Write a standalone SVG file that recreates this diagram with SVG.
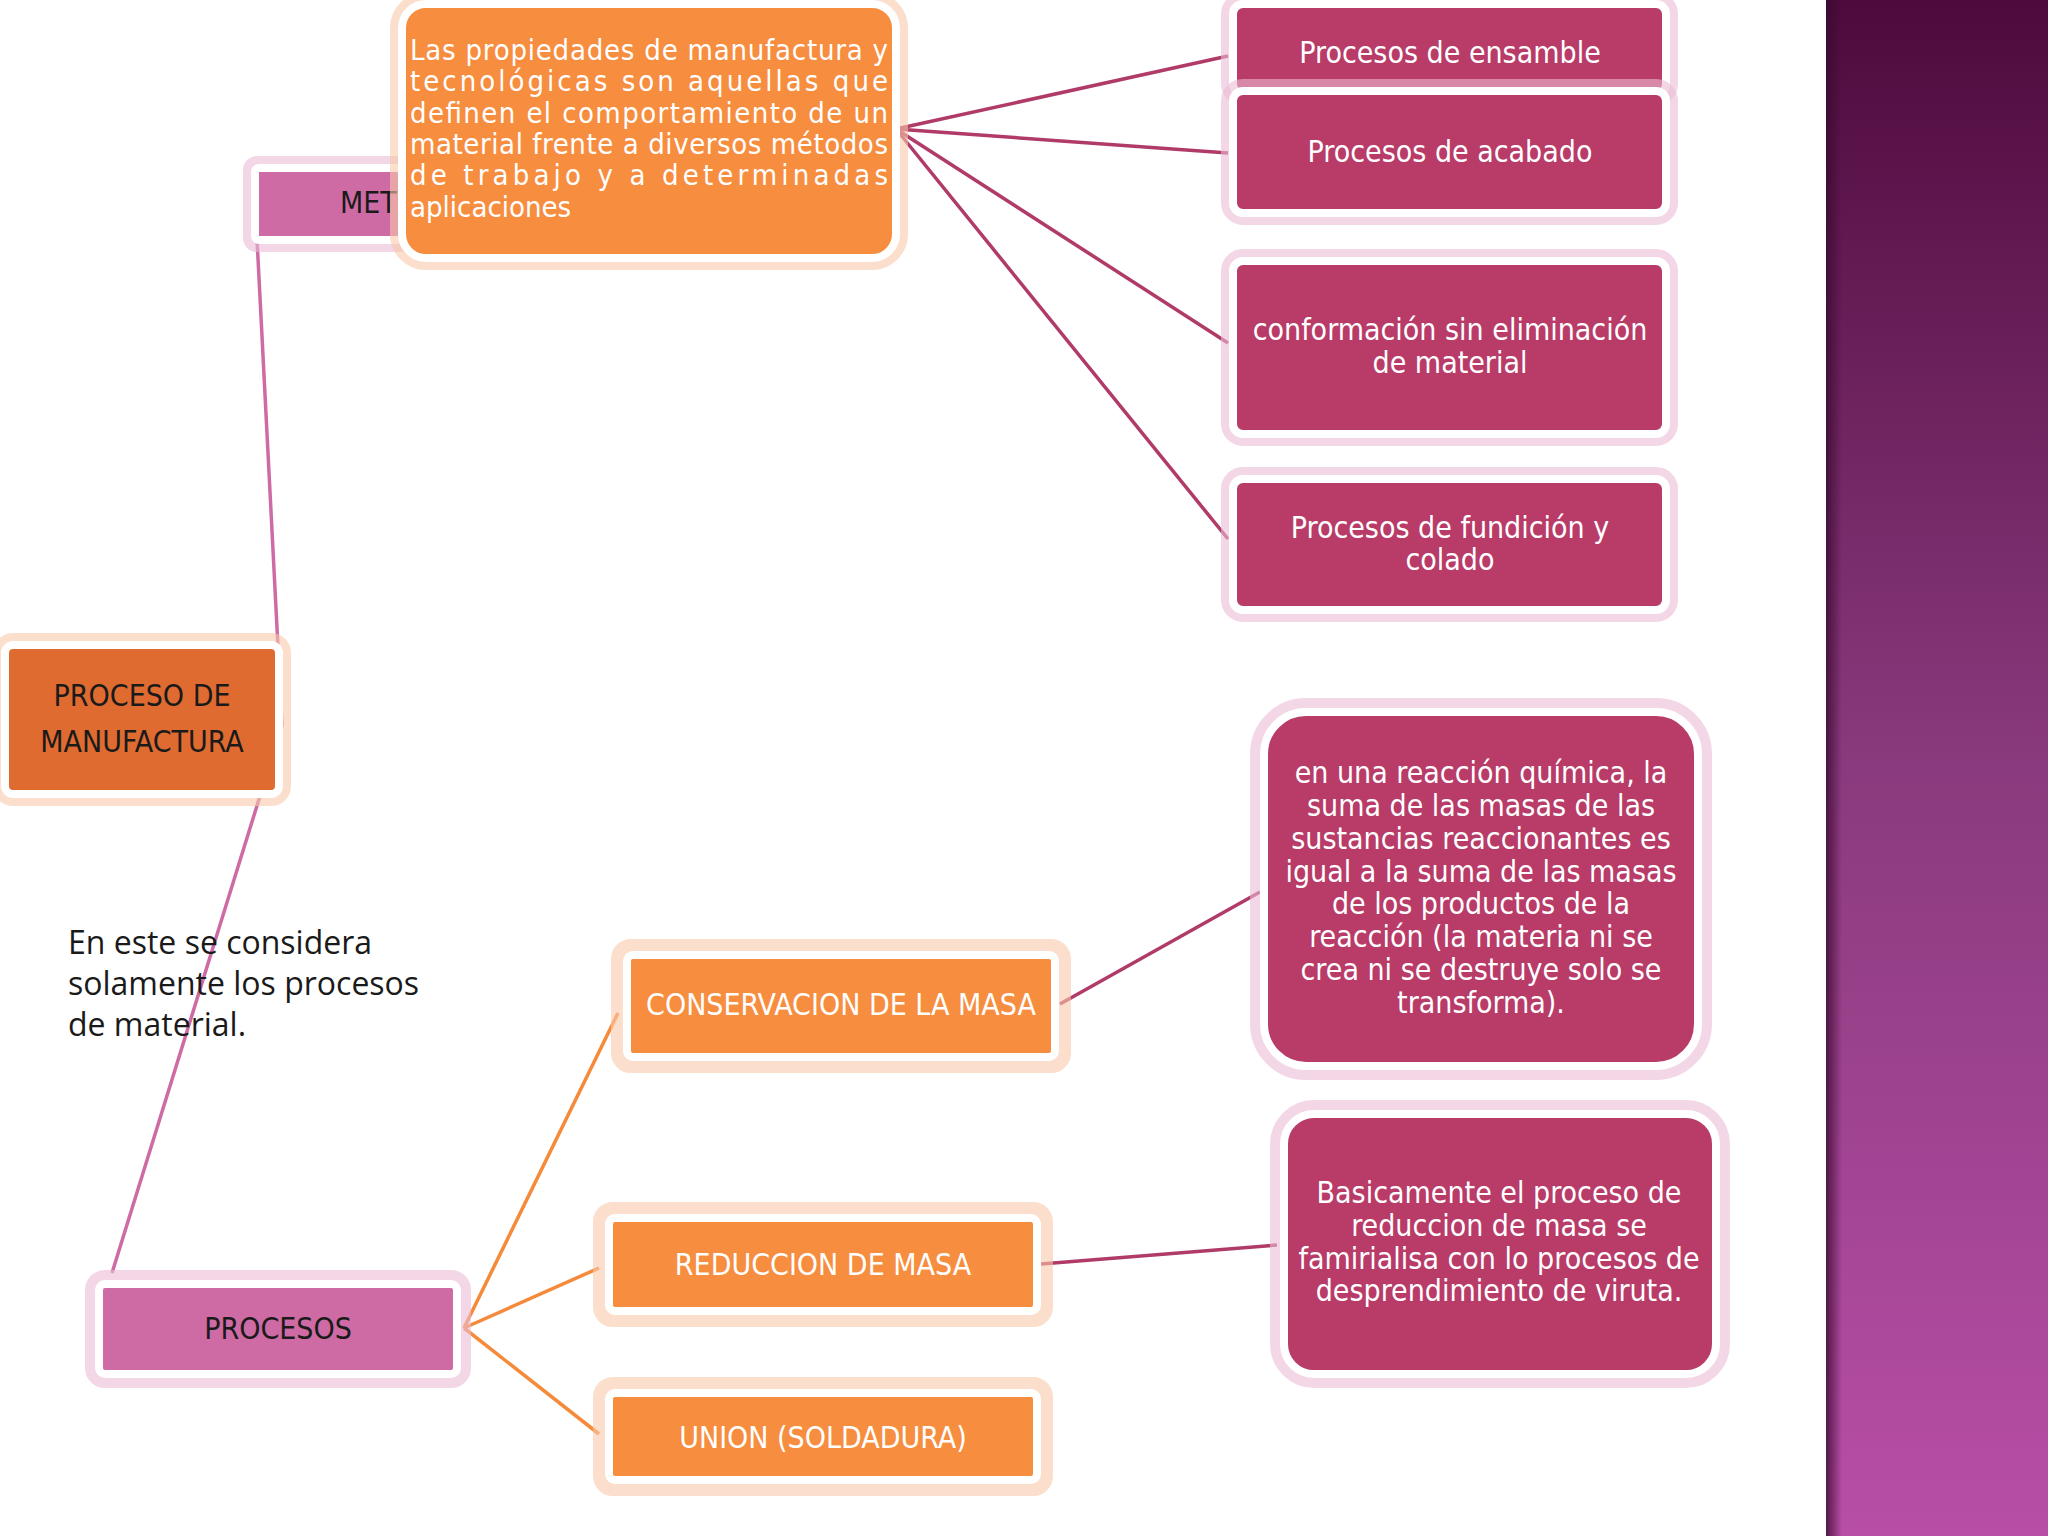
<svg xmlns="http://www.w3.org/2000/svg" width="2048" height="1536" viewBox="0 0 2048 1536">
<defs>
<linearGradient id="band" x1="0" y1="0" x2="0" y2="1">
<stop offset="0" stop-color="#4E0A3C"/><stop offset="0.5" stop-color="#8A3A7E"/><stop offset="1" stop-color="#B84EA6"/>
</linearGradient>
<linearGradient id="edge" x1="0" y1="0" x2="1" y2="0">
<stop offset="0" stop-color="#3A0A30" stop-opacity="0.8"/><stop offset="1" stop-color="#3A0A30" stop-opacity="0"/>
</linearGradient>
</defs>
<style>
.t{font-family:"DejaVu Sans Condensed","DejaVu Sans",sans-serif;font-size:30px;fill:#fff;text-anchor:middle}
.d{fill:#1a1a1a}
.og{fill:none;stroke:#F8C8A8;stroke-width:16;opacity:.6}
.pg{fill:none;stroke:#EBBCD6;stroke-width:16;opacity:.6}
.o{fill:#F78D3F;stroke:#fff;stroke-width:8}
.m{fill:#B83B68;stroke:#fff;stroke-width:8}
.p{fill:#CE6BA4;stroke:#fff;stroke-width:8}
.r{fill:#E06B30;stroke:#fff;stroke-width:8}
.cm{stroke:#B03A68;stroke-width:3.5;fill:none}
.cp{stroke:#CE6BA4;stroke-width:3.5;fill:none}
.co{stroke:#F58A3A;stroke-width:3.5;fill:none}
</style>
<rect width="2048" height="1536" fill="#fff"/>
<rect x="1826" y="0" width="222" height="1536" fill="url(#band)"/>
<rect x="1826" y="0" width="16" height="1536" fill="url(#edge)"/>
<g id="connectors">
<polyline class="cp" points="257,239 282,725 112,1273"/>
<line class="cm" x1="896" y1="129" x2="1228" y2="56"/>
<line class="cm" x1="896" y1="129" x2="1228" y2="153"/>
<line class="cm" x1="896" y1="129" x2="1228" y2="343"/>
<line class="cm" x1="896" y1="129" x2="1228" y2="539"/>
<line class="cm" x1="1060" y1="1004" x2="1260" y2="892"/>
<line class="cm" x1="1041" y1="1264" x2="1277" y2="1245"/>
<line class="co" x1="464" y1="1328" x2="618" y2="1013"/>
<line class="co" x1="464" y1="1328" x2="599" y2="1268"/>
<line class="co" x1="464" y1="1328" x2="599" y2="1434"/>
</g>
<g id="met"><rect class="pg" x="251" y="164" width="160" height="80" rx="6"/><rect class="p" x="255" y="168" width="152" height="72" rx="4"/><text class="t d" x="340" y="213" style="text-anchor:start">MET</text></g>
<g id="def"><rect class="og" x="398" y="0" width="502" height="262" rx="28"/><rect class="o" x="402" y="4" width="494" height="254" rx="24"/>
<g class="t" style="text-anchor:start;font-size:29px">
<text x="410" y="60" textLength="478" lengthAdjust="spacing">Las propiedades de manufactura y</text>
<text x="410" y="91" textLength="478" lengthAdjust="spacing">tecnológicas son aquellas que</text>
<text x="410" y="123" textLength="478" lengthAdjust="spacing">definen el comportamiento de un</text>
<text x="410" y="154" textLength="478" lengthAdjust="spacing">material frente a diversos métodos</text>
<text x="410" y="185" textLength="478" lengthAdjust="spacing">de trabajo y a determinadas</text>
<text x="410" y="217">aplicaciones</text></g></g>
<g id="ensamble"><rect class="pg" x="1229" y="0" width="441" height="98" rx="14"/><rect class="m" x="1233" y="4" width="433" height="90" rx="10"/><text class="t" x="1450" y="63">Procesos de ensamble</text></g>
<g id="acabado"><rect class="pg" x="1229" y="87" width="441" height="130" rx="14"/><rect class="m" x="1233" y="91" width="433" height="122" rx="10"/><text class="t" x="1450" y="162">Procesos de acabado</text></g>
<g id="conformacion"><rect class="pg" x="1229" y="257" width="441" height="181" rx="14"/><rect class="m" x="1233" y="261" width="433" height="173" rx="10"/><text class="t" x="1450" y="340">conformación sin eliminación</text><text class="t" x="1450" y="373">de material</text></g>
<g id="fundicion"><rect class="pg" x="1229" y="475" width="441" height="139" rx="14"/><rect class="m" x="1233" y="479" width="433" height="131" rx="10"/><text class="t" x="1450" y="538">Procesos de fundición y</text><text class="t" x="1450" y="570">colado</text></g>
<g id="proceso"><rect class="og" x="1" y="641" width="282" height="157" rx="12"/><rect class="r" x="5" y="645" width="274" height="149" rx="8"/><text class="t d" x="142" y="706">PROCESO DE</text><text class="t d" x="142" y="752">MANUFACTURA</text></g>
<g id="nota" class="t d" style="text-anchor:start;font-size:32px;font-family:'Open Sans','DejaVu Sans',sans-serif"><text x="68" y="954">En este se considera</text><text x="68" y="995">solamente los procesos</text><text x="68" y="1036">de material.</text></g>
<g id="conservacion"><rect class="og" x="619" y="947" width="444" height="118" rx="12"/><rect class="o" x="627" y="955" width="428" height="102" rx="6"/><text class="t" x="841" y="1015">CONSERVACION DE LA MASA</text></g>
<g id="reduccion"><rect class="og" x="601" y="1210" width="444" height="109" rx="12"/><rect class="o" x="609" y="1218" width="428" height="93" rx="6"/><text class="t" x="823" y="1275">REDUCCION DE MASA</text></g>
<g id="union"><rect class="og" x="601" y="1385" width="444" height="103" rx="12"/><rect class="o" x="609" y="1393" width="428" height="87" rx="6"/><text class="t" x="823" y="1448">UNION (SOLDADURA)</text></g>
<g id="procesos"><rect class="pg" x="93" y="1278" width="370" height="102" rx="12"/><rect class="p" x="99" y="1284" width="358" height="90" rx="6"/><text class="t d" x="278" y="1339">PROCESOS</text></g>
<g id="reaccion"><rect class="pg" x="1258" y="706" width="446" height="366" rx="48"/><rect class="m" x="1264" y="712" width="434" height="354" rx="42"/>
<g class="t"><text x="1481" y="783">en una reacción química, la</text><text x="1481" y="816">suma de las masas de las</text><text x="1481" y="849">sustancias reaccionantes es</text><text x="1481" y="882">igual a la suma de las masas</text><text x="1481" y="914">de los productos de la</text><text x="1481" y="947">reacción (la materia ni se</text><text x="1481" y="980">crea ni se destruye solo se</text><text x="1481" y="1013">transforma).</text></g></g>
<g id="basica"><rect class="pg" x="1278" y="1108" width="444" height="272" rx="36"/><rect class="m" x="1284" y="1114" width="432" height="260" rx="30"/>
<g class="t"><text x="1499" y="1203">Basicamente el proceso de</text><text x="1499" y="1236">reduccion de masa se</text><text x="1499" y="1269">famirialisa con lo procesos de</text><text x="1499" y="1301">desprendimiento de viruta.</text></g></g>
</svg>
